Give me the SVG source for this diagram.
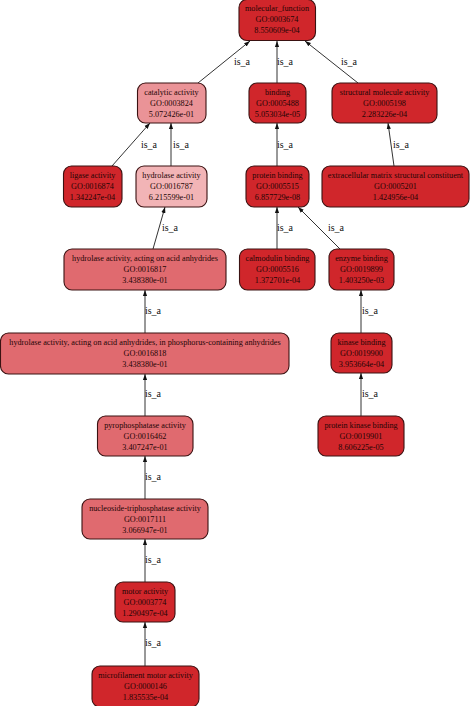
<svg xmlns="http://www.w3.org/2000/svg" width="474" height="706" viewBox="0 0 474 706">
<style>
.n rect{stroke:#3a1212;stroke-width:1.1}
.d rect{fill:#d0262b}
.c rect{fill:#ea9397}
.h rect{fill:#f2b4b6}
.m rect{fill:#e06a6f}
.n text{font-family:"Liberation Serif","Times New Roman",serif;font-size:8.2px;fill:#1e0505;text-anchor:middle}
.e line{stroke:#333;stroke-width:1}
.e text{font-family:"Liberation Serif","Times New Roman",serif;font-size:10px;fill:#111;text-anchor:middle}
</style>
<defs>
<marker id="ah" viewBox="0 0 10 10" refX="10" refY="5" markerWidth="6" markerHeight="6" markerUnits="userSpaceOnUse" orient="auto">
<path d="M0,1.5 L10,5 L0,8.5 Z" fill="#111"/>
</marker>
</defs>
<rect width="474" height="706" fill="#fff"/>
<g id="edges" class="e">
<line x1="198" y1="83" x2="250" y2="41" marker-end="url(#ah)"/>
<text x="242" y="65">is_a</text>
<line x1="277" y1="83" x2="277" y2="41" marker-end="url(#ah)"/>
<text x="285" y="65">is_a</text>
<line x1="358" y1="83" x2="305" y2="41" marker-end="url(#ah)"/>
<text x="349" y="65">is_a</text>
<line x1="112" y1="166" x2="150" y2="123" marker-end="url(#ah)"/>
<text x="149" y="148">is_a</text>
<line x1="171" y1="166" x2="171" y2="123" marker-end="url(#ah)"/>
<text x="181" y="148">is_a</text>
<line x1="277" y1="166" x2="277" y2="123" marker-end="url(#ah)"/>
<text x="285" y="148">is_a</text>
<line x1="394" y1="166" x2="388" y2="123" marker-end="url(#ah)"/>
<text x="401" y="148">is_a</text>
<line x1="153" y1="249" x2="165" y2="207" marker-end="url(#ah)"/>
<text x="170" y="231">is_a</text>
<line x1="277" y1="249" x2="277" y2="207" marker-end="url(#ah)"/>
<text x="285" y="231">is_a</text>
<line x1="340" y1="249" x2="298" y2="207" marker-end="url(#ah)"/>
<text x="336" y="231">is_a</text>
<line x1="145" y1="333" x2="145" y2="290" marker-end="url(#ah)"/>
<text x="153" y="314">is_a</text>
<line x1="361" y1="333" x2="361" y2="290" marker-end="url(#ah)"/>
<text x="370" y="314">is_a</text>
<line x1="145" y1="416" x2="145" y2="374" marker-end="url(#ah)"/>
<text x="153" y="397">is_a</text>
<line x1="361" y1="416" x2="361" y2="373" marker-end="url(#ah)"/>
<text x="370" y="397">is_a</text>
<line x1="145" y1="499" x2="145" y2="456" marker-end="url(#ah)"/>
<text x="153" y="480">is_a</text>
<line x1="145" y1="582" x2="145" y2="539" marker-end="url(#ah)"/>
<text x="153" y="563">is_a</text>
<line x1="145" y1="666" x2="145" y2="622" marker-end="url(#ah)"/>
<text x="153" y="646">is_a</text>
</g>
<g id="n_mf" class="n d"><rect x="239" y="-0.5" width="76.5" height="41" rx="8"/><text x="277" y="11">molecular_function</text><text x="277" y="22">GO:0003674</text><text x="277" y="33">8.550609e-04</text></g>
<g id="n_cat" class="n c"><rect x="137.5" y="83" width="68.5" height="40" rx="8"/><text x="171.5" y="94.5">catalytic activity</text><text x="171.5" y="105.5">GO:0003824</text><text x="171.5" y="116.5">5.072426e-01</text></g>
<g id="n_bind" class="n d"><rect x="249" y="83" width="57" height="40" rx="8"/><text x="277.5" y="94.5">binding</text><text x="277.5" y="105.5">GO:0005488</text><text x="277.5" y="116.5">5.053034e-05</text></g>
<g id="n_struct" class="n d"><rect x="332" y="83" width="105" height="40" rx="8"/><text x="384.5" y="94.5">structural molecule activity</text><text x="384.5" y="105.5">GO:0005198</text><text x="384.5" y="116.5">2.283226e-04</text></g>
<g id="n_lig" class="n d"><rect x="63.5" y="166" width="58.5" height="41" rx="8"/><text x="92.5" y="177.5">ligase activity</text><text x="92.5" y="188.5">GO:0016874</text><text x="92.5" y="199.5">1.342247e-04</text></g>
<g id="n_hyd" class="n h"><rect x="136" y="166" width="71" height="41" rx="8"/><text x="171.5" y="177.5">hydrolase activity</text><text x="171.5" y="188.5">GO:0016787</text><text x="171.5" y="199.5">6.215599e-01</text></g>
<g id="n_pb" class="n d"><rect x="246" y="166" width="63" height="41" rx="8"/><text x="277.5" y="177.5">protein binding</text><text x="277.5" y="188.5">GO:0005515</text><text x="277.5" y="199.5">6.857729e-08</text></g>
<g id="n_ecm" class="n d"><rect x="322" y="166" width="147" height="41" rx="8"/><text x="395.5" y="177.5">extracellular matrix structural constituent</text><text x="395.5" y="188.5">GO:0005201</text><text x="395.5" y="199.5">1.424956e-04</text></g>
<g id="n_haa" class="n m"><rect x="64" y="249" width="162" height="41" rx="8"/><text x="145" y="260.5">hydrolase activity, acting on acid anhydrides</text><text x="145" y="271.5">GO:0016817</text><text x="145" y="282.5">3.438380e-01</text></g>
<g id="n_cal" class="n d"><rect x="239.5" y="249" width="75.5" height="41" rx="8"/><text x="277.5" y="260.5">calmodulin binding</text><text x="277.5" y="271.5">GO:0005516</text><text x="277.5" y="282.5">1.372701e-04</text></g>
<g id="n_enz" class="n d"><rect x="329" y="249" width="65" height="41" rx="8"/><text x="361.5" y="260.5">enzyme binding</text><text x="361.5" y="271.5">GO:0019899</text><text x="361.5" y="282.5">1.403250e-03</text></g>
<g id="n_hpc" class="n m"><rect x="0.5" y="333" width="288.5" height="41" rx="8"/><text x="145" y="344.5">hydrolase activity, acting on acid anhydrides, in phosphorus-containing anhydrides</text><text x="145" y="355.5">GO:0016818</text><text x="145" y="366.5">3.438380e-01</text></g>
<g id="n_kin" class="n d"><rect x="331" y="333" width="61" height="40" rx="8"/><text x="361.5" y="344.5">kinase binding</text><text x="361.5" y="355.5">GO:0019900</text><text x="361.5" y="366.5">3.953664e-04</text></g>
<g id="n_pyro" class="n m"><rect x="97.5" y="416" width="95.5" height="40" rx="8"/><text x="145" y="427.5">pyrophosphatase activity</text><text x="145" y="438.5">GO:0016462</text><text x="145" y="449.5">3.407247e-01</text></g>
<g id="n_pkb" class="n d"><rect x="318" y="416" width="86" height="40" rx="8"/><text x="361" y="427.5">protein kinase binding</text><text x="361" y="438.5">GO:0019901</text><text x="361" y="449.5">8.606225e-05</text></g>
<g id="n_ntp" class="n m"><rect x="82" y="499" width="126" height="40" rx="8"/><text x="145" y="510.5">nucleoside-triphosphatase activity</text><text x="145" y="521.5">GO:0017111</text><text x="145" y="532.5">3.066947e-01</text></g>
<g id="n_mot" class="n d"><rect x="115" y="582" width="60" height="40" rx="8"/><text x="145" y="593.5">motor activity</text><text x="145" y="604.5">GO:0003774</text><text x="145" y="615.5">1.290497e-04</text></g>
<g id="n_mfm" class="n d"><rect x="92" y="666" width="107" height="41" rx="8"/><text x="145.5" y="677.5">microfilament motor activity</text><text x="145.5" y="688.5">GO:0000146</text><text x="145.5" y="699.5">1.835535e-04</text></g>
</svg>
